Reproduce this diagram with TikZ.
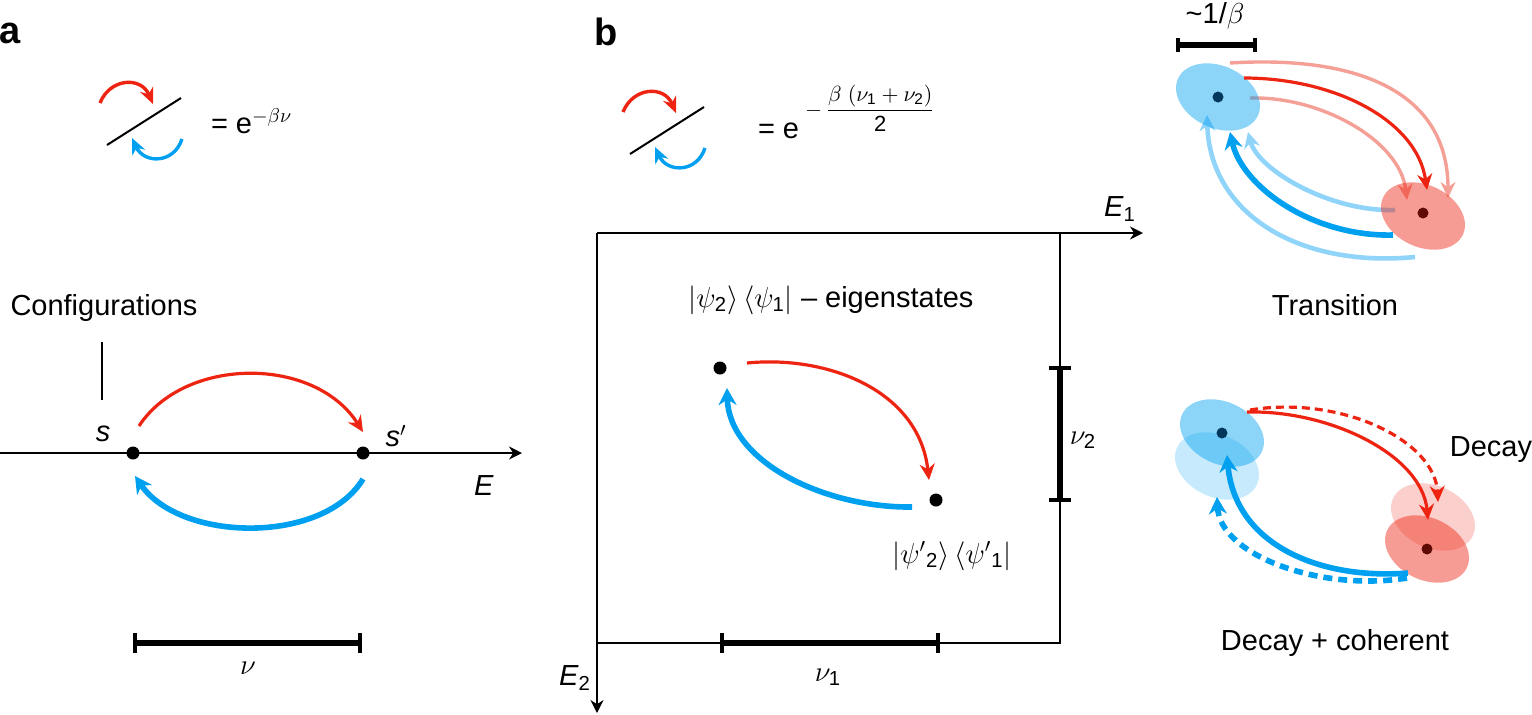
\documentclass[tikz,border=0pt]{standalone}
\usepackage{fontspec}
\usepackage{amsmath}
\setmainfont{Liberation Sans}
\usetikzlibrary{arrows.meta,shapes.geometric}
\definecolor{redC}{RGB}{238,36,18}
\definecolor{blueC}{RGB}{0,160,240}
\definecolor{lightred}{RGB}{245,160,150}
\definecolor{lightblue}{RGB}{145,212,250}
\definecolor{dotblue}{RGB}{0,55,90}
\definecolor{dotred}{RGB}{95,10,5}
\begin{document}
\begin{tikzpicture}[x=0.5pt,y=-0.5pt,
  every node/.style={font=\fontsize{14.5}{17}\selectfont, inner sep=0pt, outer sep=0pt},
  panellabel/.style={font=\fontsize{19}{22}\selectfont\bfseries},
  axisline/.style={line width=1pt, draw=black},
  axisarrow/.style={line width=1pt, draw=black, -{Stealth[length=6.5pt,width=6.5pt]}},
  slashline/.style={line width=1pt, draw=black},
  redsmall/.style={draw=redC, line width=1.7pt, -{Stealth[length=8pt,width=7pt]}},
  bluesmall/.style={draw=blueC, line width=1.7pt, -{Stealth[length=8pt,width=7pt]}},
  redarr/.style={draw=redC, line width=1.6pt, -{Stealth[length=8pt,width=7.5pt]}},
  bluearr/.style={draw=blueC, line width=2.8pt, -{Stealth[length=8.5pt,width=9pt]}},
  lredarr/.style={draw=lightred, line width=1.7pt, -{Stealth[length=8pt,width=7.5pt]}},
  lbluearr/.style={draw=lightblue, line width=2.3pt, -{Stealth[length=8pt,width=8pt]}},
  barline/.style={line width=2.8pt, draw=black},
  tickline/.style={line width=2.3pt, draw=black},
  bigdot/.style={circle, fill=black, minimum size=6.5pt},
  smalldot/.style={circle, minimum size=5.5pt},
  ellbase/.style={ellipse, minimum width=44pt, minimum height=31pt, rotate=-25},
  ellblue/.style={ellbase, fill=blueC, fill opacity=0.45},
  ellbluelight/.style={ellbase, fill=blueC, fill opacity=0.22},
  ellred/.style={ellbase, fill=redC, fill opacity=0.45},
  ellredlight/.style={ellbase, fill=redC, fill opacity=0.22},
  fracfont/.style={font=\fontsize{11}{13}\selectfont}
]
\useasboundingbox (0,0) rectangle (1532,714);

% ---------------- panel a ----------------
\node[panellabel] (la) at (10,33) {a};

% small symbol
\coordinate (aR1) at (100,103); \coordinate (aR2) at (153,104);
\coordinate (aS1) at (107,145); \coordinate (aS2) at (181,98);
\coordinate (aB1) at (182,139); \coordinate (aB2) at (132,138);
\draw[redsmall] (aR1) .. controls (110,78) and (141,76) .. (aR2);
\draw[slashline] (aS1) -- (aS2);
\draw[bluesmall] (aB1) .. controls (174,164) and (144,164) .. (aB2);
\node[anchor=base west] (eqA) at (211,133) {= e\textsuperscript{$-\beta\nu$}};

% configurations
\node (conf) at (104,308) {Configurations};
\coordinate (confT) at (102,342); \coordinate (confB) at (102,400);
\draw[axisline] (confT) -- (confB);

% energy axis
\coordinate (axL) at (0,453); \coordinate (axR) at (522,453);
\draw[axisarrow] (axL) -- (axR);
\node (Elab) at (484,486) {\textit{E}};
\node[bigdot] (s) at (133,453) {};
\node[bigdot] (sp) at (363,453) {};
\node (slab) at (103,434) {\textit{s}};
\node (splab) at (396,436) {\textit{s}$'$};

\coordinate (raS) at (139,426); \coordinate (raE) at (363,432);
\draw[redarr] (raS) .. controls (185,356) and (315,356) .. (raE);
\coordinate (baS) at (363,479); \coordinate (baE) at (135,476);
\draw[bluearr] (baS) .. controls (323,545) and (180,542) .. (baE);

% nu bar
\coordinate (nuL) at (135,643); \coordinate (nuR) at (360,643);
\draw[barline] (nuL) -- (nuR);
\draw[tickline] (nuL) ++(0,-10) -- ++(0,20);
\draw[tickline] (nuR) ++(0,-10) -- ++(0,20);
\node (nulab) at (248,668) {$\nu$};

% ---------------- panel b ----------------
\node[panellabel] (lb) at (606,32) {b};

\coordinate (bR1) at (623,112); \coordinate (bR2) at (676,113);
\coordinate (bS1) at (630,154); \coordinate (bS2) at (704,107);
\coordinate (bB1) at (705,148); \coordinate (bB2) at (655,147);
\draw[redsmall] (bR1) .. controls (633,87) and (664,85) .. (bR2);
\draw[slashline] (bS1) -- (bS2);
\draw[bluesmall] (bB1) .. controls (697,173) and (667,173) .. (bB2);
\node[anchor=base west] (eqB) at (758,138) {= e};
\node[anchor=base, fracfont] (fracB) at (870,116) {$-\,\dfrac{\beta\ (\nu_{\text{1}} + \nu_{\text{2}})}{\text{2}}$};

% axes and box
\coordinate (O) at (597,233);
\coordinate (E1end) at (1143,233);
\coordinate (E2end) at (597,713);
\coordinate (BR) at (1060,643);
\draw[axisarrow] (O) -- (E1end);
\draw[axisarrow] (O) -- (E2end);
\draw[axisline] (O |- BR) -- (BR) -- (BR |- O);
\node (E1lab) at (1120,209) {\textit{E}\textsubscript{1}};
\node (E2lab) at (575,678) {\textit{E}\textsubscript{2}};

% nu1 bar
\coordinate (n1L) at (722,643); \coordinate (n1R) at (938,643);
\draw[barline] (n1L) -- (n1R);
\draw[tickline] (n1L) ++(0,-10) -- ++(0,20);
\draw[tickline] (n1R) ++(0,-10) -- ++(0,20);
\node (n1lab) at (828,677) {$\nu_{\text{1}}$};

% nu2 bar
\coordinate (n2T) at (1060,368); \coordinate (n2B) at (1060,500);
\draw[barline] (n2T) -- (n2B);
\draw[tickline] (n2T) ++(-11,0) -- ++(22,0);
\draw[tickline] (n2B) ++(-11,0) -- ++(22,0);
\node (n2lab) at (1083,440) {$\nu_{\text{2}}$};

% eigenstates
\node (eig) at (831,300) {$|\psi_{\text{2}}\rangle\,\langle\psi_{\text{1}}|$ -- eigenstates};
\node[bigdot] (p1) at (720,368) {};
\node[bigdot] (p2) at (936,500) {};
\node (eigp) at (952,556) {$|\psi'{}_{\text{2}}\rangle\,\langle\psi'{}_{\text{1}}|$};
\coordinate (rbS) at (747,363); \coordinate (rbE) at (929,480);
\draw[redarr] (rbS) .. controls (827,355) and (919,390) .. (rbE);
\coordinate (bbS) at (912,507); \coordinate (bbE) at (727,388);
\draw[bluearr] (bbS) .. controls (825,508) and (729,462) .. (bbE);

% ---------------- transition ----------------
\node (invb) at (1215,16) {\textasciitilde 1/$\beta$};
\coordinate (ibL) at (1178,45); \coordinate (ibR) at (1255,45);
\draw[barline] (ibL) -- (ibR);
\draw[tickline] (ibL) ++(0,-7) -- ++(0,14);
\draw[tickline] (ibR) ++(0,-7) -- ++(0,14);

% light arrows (under the ellipses)
\coordinate (tr2S) at (1230,63); \coordinate (tr2E) at (1448,198);
\draw[lredarr] (tr2S) .. controls (1360,55) and (1448,93) .. (tr2E);
\coordinate (tr3S) at (1250,98); \coordinate (tr3E) at (1407,200);
\draw[lredarr] (tr3S) .. controls (1320,96) and (1400,140) .. (tr3E);
\coordinate (tb2S) at (1395,210); \coordinate (tb2E) at (1248,132);
\draw[lbluearr] (tb2S) .. controls (1330,212) and (1258,170) .. (tb2E);
\coordinate (tb3S) at (1415,257); \coordinate (tb3E) at (1207,115);
\draw[lbluearr] (tb3S) .. controls (1300,268) and (1210,215) .. (tb3E);

\node[ellblue] (tEb) at (1218,97) {};
\node[ellred] (tEr) at (1423,216) {};

\coordinate (tr1S) at (1244,78); \coordinate (tr1E) at (1427,190);
\draw[redarr] (tr1S) .. controls (1334,78) and (1417,120) .. (tr1E);
\coordinate (tb1S) at (1393,235); \coordinate (tb1E) at (1230,132);
\draw[bluearr] (tb1S) .. controls (1313,237) and (1242,187) .. (tb1E);

\node[smalldot, fill=dotblue] (tdb) at (1218,97) {};
\node[smalldot, fill=dotred] (tdr) at (1423,213) {};
\node (trans) at (1335,305) {Transition};

% ---------------- decay ----------------
\node[ellbluelight] (dEbl) at (1217,466) {};
\node[ellblue] (dEb) at (1222,433) {};
\node[ellredlight] (dErl) at (1433,517) {};
\node[ellred] (dEr) at (1427,549) {};

\coordinate (dr1S) at (1247,412); \coordinate (dr1E) at (1428,520);
\draw[redarr] (dr1S) .. controls (1330,410) and (1422,455) .. (dr1E);
\coordinate (dr2S) at (1250,410); \coordinate (dr2E) at (1438,502);
\draw[redarr, dash pattern=on 4pt off 2.5pt] (dr2S) .. controls (1340,395) and (1435,440) .. (dr2E);
\coordinate (db1S) at (1408,573); \coordinate (db1E) at (1227,455);
\draw[bluearr] (db1S) .. controls (1320,580) and (1235,545) .. (db1E);
\coordinate (db2S) at (1407,578); \coordinate (db2E) at (1217,497);
\draw[bluearr, dash pattern=on 4.5pt off 3pt] (db2S) .. controls (1320,592) and (1220,555) .. (db2E);

\node[smalldot, fill=dotblue] (ddb) at (1222,433) {};
\node[smalldot, fill=dotred] (ddr) at (1427,549) {};
\node (decay) at (1491,450) {Decay};
\node (dcoh) at (1335,643) {Decay + coherent};
\end{tikzpicture}
\end{document}
